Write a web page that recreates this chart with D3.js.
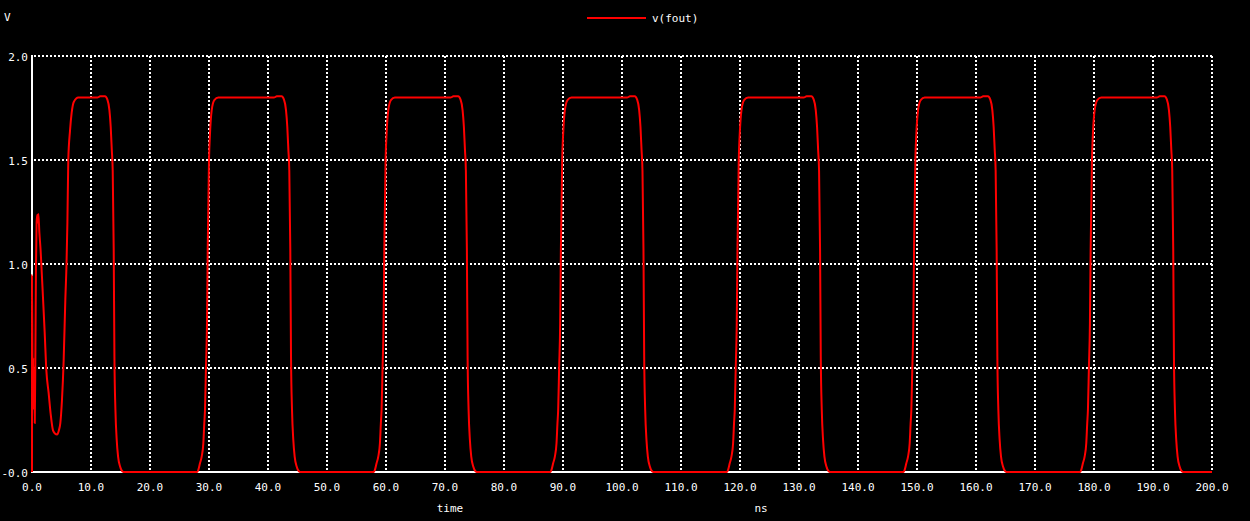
<!DOCTYPE html>
<html><head><meta charset="utf-8">
<script src="https://cdn.jsdelivr.net/npm/d3@7"></script>
<style>html,body{margin:0;padding:0;background:#000;overflow:hidden}</style>
</head><body><svg id="c" width="1250" height="521"></svg>
<script>
// ---------------- data ----------------
const seriesName = "v(fout)";
const xTicks = [0,10,20,30,40,50,60,70,80,90,100,110,120,130,140,150,160,170,180,190,200];
const xTickLabels = ["0.0","10.0","20.0","30.0","40.0","50.0","60.0","70.0","80.0","90.0","100.0","110.0","120.0","130.0","140.0","150.0","160.0","170.0","180.0","190.0","200.0"];
const yTicks = [0,0.5,1.0,1.5,2.0];
const yTickLabels = ["-0.0","0.5","1.0","1.5","2.0"];

// time (ns) of each sample
const timeNs = [
  // start-up + pulse 1
  0, 0.01, 0.12, 0.2, 0.3, 0.4, 0.47, 0.58, 0.68, 0.78, 0.88, 0.98, 1.08, 1.25, 1.45, 1.58, 1.86, 2.15, 2.43, 2.82, 3.16, 3.56, 3.9, 4.24, 4.55, 4.8, 5.08, 5.37, 5.65, 5.85, 6.0, 6.15, 6.44, 6.72, 7.1, 7.85,
  11.07, 11.57, 12.37,
  12.78, 13.12, 13.34, 13.52, 13.68, 13.85, 13.97, 14.14, 14.36, 14.59, 14.93, 15.38, 15.67,
  // pulse 2
  28.0, 28.19, 28.47, 28.76, 29.04, 29.2, 29.32, 29.49, 29.66, 29.78, 30.0, 30.17, 30.46, 30.9, 31.58,
  41.0, 41.5, 42.3,
  42.71, 43.05, 43.27, 43.45, 43.61, 43.78, 43.9, 44.07, 44.29, 44.52, 44.86, 45.31, 45.6,
  // pulse 3
  57.93, 58.12, 58.40, 58.69, 58.97, 59.13, 59.25, 59.42, 59.59, 59.71, 59.93, 60.10, 60.39, 60.83, 61.51,
  70.93, 71.43, 72.23,
  72.64, 72.98, 73.20, 73.38, 73.54, 73.71, 73.83, 74.00, 74.22, 74.45, 74.79, 75.24, 75.53,
  // pulse 4
  87.86, 88.05, 88.33, 88.62, 88.90, 89.06, 89.18, 89.35, 89.52, 89.64, 89.86, 90.03, 90.32, 90.76, 91.44,
  100.86, 101.36, 102.16,
  102.57, 102.91, 103.13, 103.31, 103.47, 103.64, 103.76, 103.93, 104.15, 104.38, 104.72, 105.17, 105.46,
  // pulse 5
  117.79, 117.98, 118.26, 118.55, 118.83, 118.99, 119.11, 119.28, 119.45, 119.57, 119.79, 119.96, 120.25, 120.69, 121.37,
  130.79, 131.29, 132.09,
  132.50, 132.84, 133.06, 133.24, 133.40, 133.57, 133.69, 133.86, 134.08, 134.31, 134.65, 135.10, 135.39,
  // pulse 6
  147.72, 147.91, 148.19, 148.48, 148.76, 148.92, 149.04, 149.21, 149.38, 149.50, 149.72, 149.89, 150.18, 150.62, 151.30,
  160.72, 161.22, 162.02,
  162.43, 162.77, 162.99, 163.17, 163.33, 163.50, 163.62, 163.79, 164.01, 164.24, 164.58, 165.03, 165.32,
  // pulse 7
  177.65, 177.84, 178.12, 178.41, 178.69, 178.85, 178.97, 179.14, 179.31, 179.43, 179.65, 179.82, 180.11, 180.55, 181.23,
  190.65, 191.15, 191.95,
  192.36, 192.70, 192.92, 193.10, 193.26, 193.43, 193.55, 193.72, 193.94, 194.17, 194.51, 194.96, 195.25,
  200
];

// v(fout) in volts at each sample
const vFout = [
  0, 0.947, 0.3, 0.55, 0.3, 0.42, 0.235, 0.6, 1.0, 1.2, 1.236, 1.2, 1.24, 1.15, 1.07, 1.0, 0.84, 0.67, 0.49, 0.38, 0.28, 0.2, 0.185, 0.18, 0.2, 0.235, 0.346, 0.54, 0.83, 1.0, 1.2, 1.5, 1.64, 1.726, 1.78, 1.8,
  1.8, 1.806, 1.806,
  1.79, 1.74, 1.66, 1.55, 1.45, 1.067, 0.554, 0.298, 0.154, 0.074, 0.026, 0.002, 0,
  // pulse 2
  0, 0.01, 0.042, 0.074, 0.138, 0.234, 0.298, 0.506, 0.715, 1.067, 1.5, 1.628, 1.74, 1.788, 1.8,
  1.8, 1.806, 1.806,
  1.79, 1.74, 1.66, 1.55, 1.45, 1.067, 0.554, 0.298, 0.154, 0.074, 0.026, 0.002, 0,
  // pulse 3
  0, 0.01, 0.042, 0.074, 0.138, 0.234, 0.298, 0.506, 0.715, 1.067, 1.5, 1.628, 1.74, 1.788, 1.8,
  1.8, 1.806, 1.806,
  1.79, 1.74, 1.66, 1.55, 1.45, 1.067, 0.554, 0.298, 0.154, 0.074, 0.026, 0.002, 0,
  // pulse 4
  0, 0.01, 0.042, 0.074, 0.138, 0.234, 0.298, 0.506, 0.715, 1.067, 1.5, 1.628, 1.74, 1.788, 1.8,
  1.8, 1.806, 1.806,
  1.79, 1.74, 1.66, 1.55, 1.45, 1.067, 0.554, 0.298, 0.154, 0.074, 0.026, 0.002, 0,
  // pulse 5
  0, 0.01, 0.042, 0.074, 0.138, 0.234, 0.298, 0.506, 0.715, 1.067, 1.5, 1.628, 1.74, 1.788, 1.8,
  1.8, 1.806, 1.806,
  1.79, 1.74, 1.66, 1.55, 1.45, 1.067, 0.554, 0.298, 0.154, 0.074, 0.026, 0.002, 0,
  // pulse 6
  0, 0.01, 0.042, 0.074, 0.138, 0.234, 0.298, 0.506, 0.715, 1.067, 1.5, 1.628, 1.74, 1.788, 1.8,
  1.8, 1.806, 1.806,
  1.79, 1.74, 1.66, 1.55, 1.45, 1.067, 0.554, 0.298, 0.154, 0.074, 0.026, 0.002, 0,
  // pulse 7
  0, 0.01, 0.042, 0.074, 0.138, 0.234, 0.298, 0.506, 0.715, 1.067, 1.5, 1.628, 1.74, 1.788, 1.8,
  1.8, 1.806, 1.806,
  1.79, 1.74, 1.66, 1.55, 1.45, 1.067, 0.554, 0.298, 0.154, 0.074, 0.026, 0.002, 0,
  0
];

// ---------------- drawing ----------------
const W = 1250, H = 521;
const svg = d3.select('#c');
svg.append('rect').attr('width', W).attr('height', H).attr('fill', '#000');

const x = d3.scaleLinear().domain([0, 200]).range([32, 1212]);
const y = d3.scaleLinear().domain([0, 2]).range([472, 56]);
const FONT = "'DejaVu Sans Mono', 'Liberation Mono', monospace";

// grid (dotted)
const grid = svg.append('g').attr('stroke', '#fff').attr('stroke-width', 2)
  .attr('stroke-dasharray', '2,2').attr('shape-rendering', 'crispEdges');
grid.selectAll('line.h').data(yTicks.filter(d => d > 0)).join('line').attr('class', 'h')
  .attr('x1', x(0) + 2).attr('x2', x(200) + 1).attr('y1', d => y(d)).attr('y2', d => y(d));
grid.selectAll('line.v').data(xTicks.filter(d => d > 0)).join('line').attr('class', 'v')
  .attr('x1', d => x(d)).attr('x2', d => x(d)).attr('y1', y(2)).attr('y2', y(0) - 2);

// axes lines
const ax = svg.append('g').attr('stroke', '#fff').attr('stroke-width', 2).attr('shape-rendering', 'crispEdges');
ax.append('line').attr('x1', x(0)).attr('x2', x(0)).attr('y1', y(2) - 1).attr('y2', y(0) + 1);
ax.append('line').attr('x1', x(0) - 1).attr('x2', x(200)).attr('y1', y(0)).attr('y2', y(0));

// tick labels
svg.append('g').selectAll('text').data(xTicks).join('text')
  .attr('x', d => x(d)).attr('y', 491).attr('text-anchor', 'middle')
  .attr('fill', '#fff').attr('font-family', FONT).attr('font-size', 11)
  .text((d, i) => xTickLabels[i]);
svg.append('g').selectAll('text').data(yTicks).join('text')
  .attr('x', 28).attr('y', d => y(d) + 5).attr('text-anchor', 'end')
  .attr('fill', '#fff').attr('font-family', FONT).attr('font-size', 11)
  .text((d, i) => yTickLabels[i]);

// axis titles
svg.append('text').attr('x', 4).attr('y', 21).attr('fill', '#fff')
  .attr('font-family', FONT).attr('font-size', 11).text('V');
svg.append('text').attr('x', 450).attr('y', 512).attr('text-anchor', 'middle').attr('fill', '#fff')
  .attr('font-family', FONT).attr('font-size', 11).text('time');
svg.append('text').attr('x', 761).attr('y', 512).attr('text-anchor', 'middle').attr('fill', '#fff')
  .attr('font-family', FONT).attr('font-size', 11).text('ns');

// trace
const pts = timeNs.map((t, i) => [t, vFout[i]]);
const line = d3.line().x(d => x(d[0])).y(d => y(d[1])).curve(d3.curveMonotoneX);
svg.append('path').datum(pts).attr('d', line)
  .attr('fill', 'none').attr('stroke', '#ff0000').attr('stroke-width', 2)
  .attr('stroke-linejoin', 'round');

// legend
svg.append('line').attr('x1', 587).attr('x2', 646).attr('y1', 18).attr('y2', 18)
  .attr('stroke', '#ff0000').attr('stroke-width', 2).attr('shape-rendering', 'crispEdges');
svg.append('text').attr('x', 652).attr('y', 22).attr('fill', '#fff')
  .attr('font-family', FONT).attr('font-size', 11).text(seriesName);
</script>
</body></html>
